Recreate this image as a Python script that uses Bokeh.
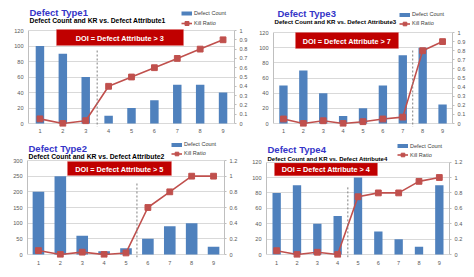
from bokeh.plotting import figure
from bokeh.models import (Range1d, LinearAxis, FixedTicker, Label, BoxAnnotation,
                          Legend, LegendItem, PrintfTickFormatter)
from bokeh.layouts import row, column
from bokeh.embed import file_html
from bokeh.resources import INLINE

# ---- data -------------------------------------------------------------
attribute = [1, 2, 3, 4, 5, 6, 7, 8, 9]

count_1 = [100, 90, 60, 10, 20, 30, 50, 50, 40]
kill_1 = [0.05, 0.0, 0.03, 0.40, 0.50, 0.60, 0.70, 0.80, 0.90]
doi_1 = 3

count_2 = [200, 250, 60, 10, 20, 50, 90, 100, 25]
kill_2 = [0.05, 0.0, 0.03, 0.0, 0.02, 0.60, 0.80, 1.0, 1.0]
doi_2 = 5

count_3 = [50, 70, 40, 10, 20, 50, 90, 100, 25]
kill_3 = [0.05, 0.0, 0.03, 0.0, 0.02, 0.05, 0.07, 0.80, 0.90]
doi_3 = 7

count_4 = [80, 90, 40, 50, 100, 30, 20, 10, 90]
kill_4 = [0.05, 0.0, 0.03, 0.0, 0.75, 0.80, 0.80, 0.95, 1.0]
doi_4 = 4

count_ticks_100 = [0, 20, 40, 60, 80, 100, 120]
count_ticks_300 = [0, 50, 100, 150, 200, 250, 300]
kill_ticks_1 = [round(0.1 * i, 1) for i in range(11)]
kill_ticks_12 = [round(0.2 * i, 1) for i in range(7)]

BLUE = "#4f81bd"
RED = "#c0504d"
FONT = "Liberation Sans"


def make_panel(n, counts, kills, doi, count_ticks, kill_ticks, g):
    # g holds the pixel layout of one panel: frame left/right, the pixel
    # rows of y=0 and y=max, and where titles, box and legend sit.
    fl, fr = g["fl"], g["fr"]
    zero, top = g["zero"], g["top"]
    fb = zero + 3                      # frame bottom a little below y=0
    xs, xe = 0.5, 9.5
    ymax = count_ticks[-1]
    kmax = kill_ticks[-1]

    def xd(px):
        return xs + (px - fl) / (fr - fl) * (xe - xs)

    def yd(py):
        return ymax * (zero - py) / (zero - top)

    y0, y1 = yd(fb), yd(0)
    p = figure(width=g["w"], height=g["h"], output_backend="svg",
               toolbar_location=None, x_range=Range1d(xs, xe),
               y_range=Range1d(y0, y1),
               min_border_left=fl, min_border_right=g["w"] - fr,
               min_border_top=0, min_border_bottom=g["h"] - fb)
    p.outline_line_color = None
    p.background_fill_color = "white"
    p.border_fill_color = "white"
    kscale = kmax / ymax
    p.extra_y_ranges = {"kr": Range1d(y0 * kscale, y1 * kscale)}

    # axes
    p.xaxis.ticker = FixedTicker(ticks=attribute)
    p.xaxis.axis_line_color = None
    p.xaxis.major_tick_line_color = None
    p.xaxis.major_tick_out = 0
    p.xaxis.major_tick_in = 0
    p.xaxis.minor_tick_line_color = None
    p.xaxis.major_label_standoff = g["xstand"]
    p.yaxis.ticker = FixedTicker(ticks=count_ticks)
    p.yaxis.bounds = (0, ymax)
    p.yaxis.axis_line_color = "#bfbfbf"
    p.yaxis.major_tick_line_color = None
    p.yaxis.major_tick_out = 0
    p.yaxis.major_tick_in = 0
    p.yaxis.minor_tick_line_color = None
    p.yaxis.major_label_standoff = 5
    right = LinearAxis(y_range_name="kr", ticker=FixedTicker(ticks=kill_ticks),
                       formatter=PrintfTickFormatter(format="%g"),
                       bounds=(0, kmax))
    right.axis_line_color = "#bfbfbf"
    right.major_tick_line_color = "#bfbfbf"
    right.major_tick_out = 2
    right.major_tick_in = 0
    right.minor_tick_line_color = None
    right.major_label_standoff = 3
    p.add_layout(right, "right")
    for ax in (p.xaxis[0], p.yaxis[0], right):
        ax.major_label_text_font = FONT
        ax.major_label_text_font_size = "5.6px"
        ax.major_label_text_color = "#595959"

    p.xgrid.visible = False
    p.ygrid.ticker = FixedTicker(ticks=count_ticks)
    p.ygrid.grid_line_color = "#d9d9d9"

    # bars and kill-ratio line
    p.vbar(x=attribute, top=counts, width=g["bar"], fill_color=BLUE,
           line_color=None)
    ln = p.line(x=attribute, y=kills, y_range_name="kr", line_color=RED,
                line_width=1.6)
    sq = p.scatter(x=attribute, y=kills, y_range_name="kr", marker="square",
                   size=5.8, fill_color=RED, line_color=RED)
    key = p.line(x=[-100], y=[-1000], line_color=BLUE, line_width=4)

    # DOI threshold
    d0, d1 = g["dash"]
    p.segment(x0=[doi + 0.5], x1=[doi + 0.5], y0=[yd(d1)], y1=[yd(d0)],
              line_color="#7f7f7f", line_width=1, line_dash="2 2")
    bx0, by0, bx1, by1 = g["box"]
    p.add_layout(BoxAnnotation(left=xd(bx0), right=xd(bx1), top=yd(by0),
                               bottom=yd(by1), fill_color="#c00000",
                               fill_alpha=1, line_color="#e06666",
                               line_width=1))
    p.add_layout(Label(x=xd((bx0 + bx1) / 2), y=yd((by0 + by1) / 2 + 0.5),
                       text=f"DOI = Defect Attribute > {doi}",
                       text_align="center", text_baseline="middle",
                       text_color="white", text_font=FONT,
                       text_font_style="bold", text_font_size="7.3px"))

    # titles
    tx, ty = g["title"]
    p.add_layout(Label(x=xd(max(tx, fl + 1)), y=yd(ty), text=f"Defect Type{n}",
                       text_baseline="alphabetic", text_color="#3535c8",
                       text_font=FONT, text_font_style="bold",
                       text_font_size="9.5px"))
    sx, sy, sfs = g["sub"]
    p.add_layout(Label(x=xd(max(sx, fl + 1)), y=yd(sy),
                       text=f"Defect Count and KR vs. Defect Attribute{n}",
                       text_baseline="alphabetic", text_color="black",
                       text_font=FONT, text_font_style="bold",
                       text_font_size=sfs))

    # legend, kept inside the frame's right edge
    lx, lb, rh = g["legend"]
    leg = Legend(items=[LegendItem(label="Defect Count", renderers=[key]),
                        LegendItem(label="Kill Ratio", renderers=[ln, sq])],
                 location=(lx - fl, fb - lb))
    leg.background_fill_alpha = 0
    leg.border_line_color = None
    leg.padding = 0
    leg.margin = 0
    leg.spacing = 0
    leg.glyph_width = 11
    leg.glyph_height = rh
    leg.label_height = rh
    leg.label_standoff = 2
    leg.label_text_font = FONT
    leg.label_text_font_size = "5.5px"
    leg.label_text_color = "#404040"
    p.add_layout(leg, "center")
    return p


p1 = make_panel(1, count_1, kill_1, doi_1, count_ticks_100, kill_ticks_1,
                dict(w=255, h=137, fl=28, fr=234, zero=123, top=30, bar=0.37,
                     xstand=2, title=(26, 12.3), sub=(25, 19.5, "6.8px"),
                     box=(56, 29, 183, 45), legend=(181, 28, 10),
                     dash=(48, 136)))
p3 = make_panel(3, count_3, kill_3, doi_3, count_ticks_100, kill_ticks_1,
                dict(w=219, h=137, fl=18, fr=197, zero=123, top=32, bar=0.42,
                     xstand=2, title=(22, 12.7), sub=(18, 20.7, "6.1px"),
                     box=(40, 32, 143, 48), legend=(144, 27.5, 9),
                     dash=(48, 132)))
p2 = make_panel(2, count_2, kill_2, doi_2, count_ticks_300, kill_ticks_12,
                dict(w=247, h=140, fl=27, fr=224, zero=117, top=23, bar=0.53,
                     xstand=3, title=(26, 10.7), sub=(22, 19, "6.8px"),
                     box=(67, 24, 171, 38), legend=(171, 20.5, 9),
                     dash=(45, 128)))
p4 = make_panel(4, count_4, kill_4, doi_4, count_ticks_100, kill_ticks_12,
                dict(w=227, h=140, fl=19, fr=202, zero=119, top=25, bar=0.41,
                     xstand=3, title=(20, 12.7), sub=(17, 22.3, "6.0px"),
                     box=(27, 26, 130, 39), legend=(150, 24, 9),
                     dash=(49, 130)))

layout = column(row(p1, p3), row(p2, p4))
open("out.html", "w").write(file_html(layout, INLINE))
